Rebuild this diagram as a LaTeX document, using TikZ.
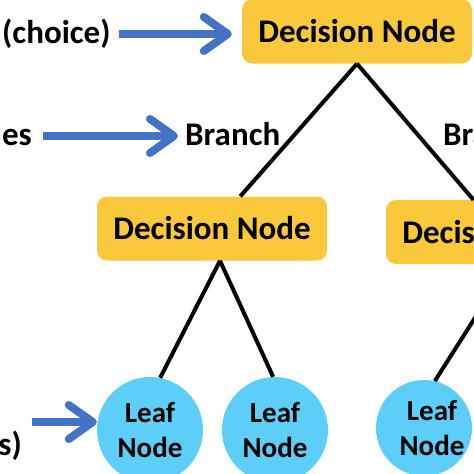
\documentclass[tikz,border=0pt]{standalone}
\usepackage{fontspec}
\setmainfont{Carlito}
\usetikzlibrary{arrows.meta,calc}
\definecolor{dyellow}{HTML}{F9C83B}
\definecolor{leafblue}{HTML}{5CCEF7}
\definecolor{arrblue}{HTML}{4472C4}
\begin{document}
\begin{tikzpicture}[x=1pt,y=-1pt,
  dnode/.style={fill=dyellow, rounded corners=10pt, minimum width=230pt, minimum height=64pt, inner sep=0pt, font=\fontsize{33}{40}\selectfont\bfseries},
  leaf/.style={circle, fill=leafblue, minimum size=106pt, inner sep=0pt, align=center, font=\fontsize{29}{35}\selectfont\bfseries},
  leaftext/.style={inner sep=0pt, align=center, font=\fontsize{29}{35}\selectfont\bfseries},
  lbl/.style={inner sep=0pt, text height=24pt, text depth=6pt, font=\fontsize{33}{40}\selectfont\bfseries},
  edgeline/.style={line width=4pt, black},
  arr/.style={line width=8pt, arrblue, -{Straight Barb[length=24pt,width=34pt,line width=8pt,round]}}]
\useasboundingbox (0,0) rectangle (474,474);
\clip (0,0) rectangle (474,474);
% decision nodes
\node[dnode] (top) at (357,31.5) {Decision Node};
\node[dnode] (dl) at (212,228.5) {Decision Node};
\node[dnode] (dr) at (501,232) {Decision Node};
% leaves
\node[leaf] (l1) at (150,430) {Leaf\\Node};
\node[leaf] (l2) at (275,430) {Leaf\\Node};
\node[leaf, minimum size=96pt] (l3) at (424,428) {};
\node[leaftext] (l3t) at (432,428) {Leaf\\Node};
% labels
\node[lbl, anchor=base west] (choice) at (2,43) {(choice)};
\node[lbl, anchor=base east] (es) at (32,145) {es};
\node[lbl, anchor=base west] (br1) at (185,145) {Branch};
\node[lbl, anchor=base west] (br2) at (443,145) {Branch};
\node[lbl, anchor=base east] (sp) at (22,455) {s)};
% tree edges
\draw[edgeline] (top.south) -- (dl);
\draw[edgeline] (top.south) -- (dr);
\draw[edgeline] ([xshift=8pt]dl.south) -- (l1.79);
\draw[edgeline] ([xshift=8pt]dl.south) -- (l2.92);
\draw[edgeline] ([xshift=8pt]dr.south) -- (l3.77);
% arrows
\draw[arr, shorten <=8pt, shorten >=10pt] (choice.east) -- (choice.east -| top.west);
\draw[arr, shorten <=11pt, shorten >=7pt] (es.east) -- (br1.west);
\coordinate (lnote) at (32,422);
\draw[arr] (lnote) -- (lnote -| l1.west);
\end{tikzpicture}
\end{document}
